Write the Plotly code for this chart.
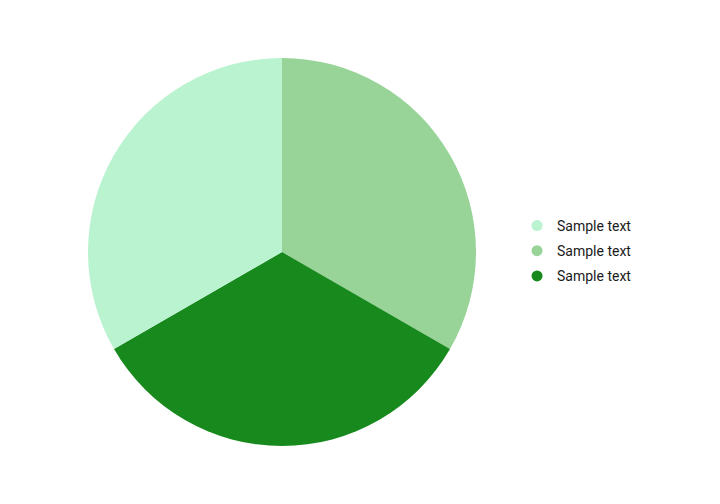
import plotly.graph_objects as go

labels = ['Sample text', 'Sample text', 'Sample text']
values = [1, 1, 1]
colors = ['#b9f3d0', '#98d498', '#17891d']

# slice order going clockwise from 12 o'clock: medium, dark, light
slice_order = [1, 2, 0]

# page shows the figure offset by the body margin (8px), compensate
off = 8

fig = go.Figure()
fig.add_trace(go.Pie(
    labels=[f'slice{i}' for i in slice_order],
    values=[values[i] for i in slice_order],
    marker=dict(colors=[colors[i] for i in slice_order]),
    sort=False, direction='clockwise', rotation=0,
    textinfo='none', hoverinfo='skip', showlegend=False,
    domain=dict(x=[(88 - off) / 720, (476 - off) / 720],
                y=[(504 - 446 + off) / 504, (504 - 58 + off) / 504]),
))

# legend with round markers
for i, (name, c) in enumerate(zip(labels, colors)):
    fig.add_trace(go.Scatter(
        x=[None], y=[None], mode='markers', name=name,
        legendgroup=f'g{i}',
        marker=dict(color=c, size=11, symbol='circle'),
    ))

fig.update_layout(
    width=720, height=504,
    margin=dict(l=0, r=0, t=0, b=0),
    paper_bgcolor='white', plot_bgcolor='white',
    font=dict(family='Roboto', size=14, color='#1a1a1a'),
    xaxis=dict(visible=False), yaxis=dict(visible=False),
    legend=dict(x=0.707, y=0.518, xanchor='left', yanchor='middle',
                itemwidth=30, tracegroupgap=4, font=dict(size=14)),
)

fig.write_html('out.html')
